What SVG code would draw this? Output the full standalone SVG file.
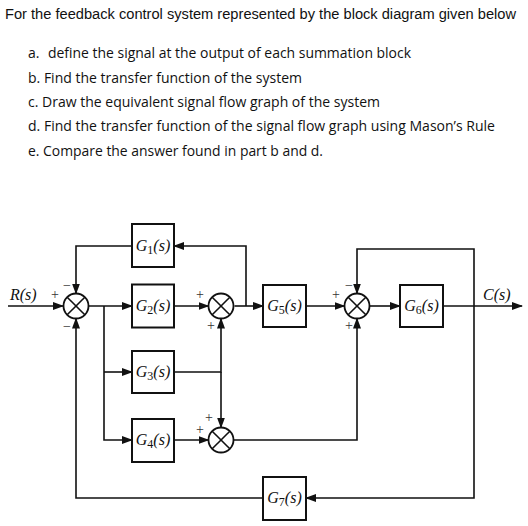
<svg xmlns="http://www.w3.org/2000/svg" width="528" height="526" viewBox="0 0 528 526">
<defs>
<marker id="ah" markerUnits="userSpaceOnUse" markerWidth="11" markerHeight="8" refX="10" refY="4" orient="auto">
<path d="M0,0 L11,4 L0,8 z" fill="#111"/>
</marker>
<style>
.q{font-family:"Open Sans","Liberation Sans",sans-serif;fill:#111}
.t{font-family:"Liberation Sans",Arial,sans-serif;fill:#111}
.blk{fill:#fff;stroke:#111;stroke-width:2}
.lbl{font-family:"Liberation Serif","DejaVu Serif",serif;font-style:italic;font-size:16px;fill:#111}
.sub{font-style:normal;font-size:12px}
.w{fill:none;stroke:#111;stroke-width:1.6}
.sum circle{fill:#fff;stroke:#111;stroke-width:1.8}
.sum line{stroke:#111;stroke-width:1.6}
.sg{font-family:"Liberation Serif",serif;font-size:14px;fill:#333;text-anchor:middle}
</style>
</defs>
<rect width="528" height="526" fill="#fff"/>
<g id="question">
<text class="t" x="5" y="19" font-size="14" textLength="511" lengthAdjust="spacingAndGlyphs">For the feedback control system represented by the block diagram given below</text>
<text class="q" x="28" y="58" font-size="14">a.</text>
<text class="q" x="48" y="58" font-size="14" textLength="363" lengthAdjust="spacingAndGlyphs">define the signal at the output of each summation block</text>
<text class="q" x="28" y="83" font-size="14" textLength="274" lengthAdjust="spacingAndGlyphs">b. Find the transfer function of the system</text>
<text class="q" x="28" y="107" font-size="14" textLength="352" lengthAdjust="spacingAndGlyphs">c. Draw the equivalent signal flow graph of the system</text>
<text class="q" x="28" y="131" font-size="14" textLength="467" lengthAdjust="spacingAndGlyphs">d. Find the transfer function of the signal flow graph using Mason’s Rule</text>
<text class="q" x="28" y="156" font-size="14" textLength="295" lengthAdjust="spacingAndGlyphs">e. Compare the answer found in part b and d.</text>
</g>
<g id="connectors">
<path class="w" d="M8,306 H63" marker-end="url(#ah)"/>
<path class="w" d="M89,306 H132" marker-end="url(#ah)"/>
<path class="w" d="M174,306 H208.5" marker-end="url(#ah)"/>
<path class="w" d="M234.5,306 H263" marker-end="url(#ah)"/>
<path class="w" d="M246,306 V246 H174" marker-end="url(#ah)"/>
<path class="w" d="M132,246 H76 V293.5" marker-end="url(#ah)"/>
<path class="w" d="M104,306 V440 H132" marker-end="url(#ah)"/>
<path class="w" d="M104,372 H132" marker-end="url(#ah)"/>
<path class="w" d="M174,372 H221 V318.5" marker-end="url(#ah)"/>
<path class="w" d="M221,372 V427.5" marker-end="url(#ah)"/>
<path class="w" d="M174,440 H208.5" marker-end="url(#ah)"/>
<path class="w" d="M233.5,440 H357 V318.5" marker-end="url(#ah)"/>
<path class="w" d="M306,306 H344.5" marker-end="url(#ah)"/>
<path class="w" d="M369.5,306 H400" marker-end="url(#ah)"/>
<path class="w" d="M443,306 H522" marker-end="url(#ah)"/>
<path class="w" d="M474,306 V249 H357 V293.5" marker-end="url(#ah)"/>
<path class="w" d="M474,306 V498 H306" marker-end="url(#ah)"/>
<path class="w" d="M263,498 H76 V318.5" marker-end="url(#ah)"/>
</g>
<g id="R" ><text class="lbl" x="10" y="300">R(s)</text></g>
<g id="C" ><text class="lbl" x="483" y="300">C(s)</text></g>
<g id="sum1" class="sum"><circle cx="76" cy="306" r="12.5"/><line x1="67.2" y1="297.2" x2="84.8" y2="314.8"/><line x1="84.8" y1="297.2" x2="67.2" y2="314.8"/>
<text class="sg" x="55" y="299">+</text><text class="sg" x="67" y="290">−</text><text class="sg" x="67" y="331">−</text></g>
<g id="sum2" class="sum"><circle cx="221" cy="306" r="12.5"/><line x1="212.2" y1="297.2" x2="229.8" y2="314.8"/><line x1="229.8" y1="297.2" x2="212.2" y2="314.8"/>
<text class="sg" x="200" y="299">+</text><text class="sg" x="211" y="330">+</text></g>
<g id="sum3" class="sum"><circle cx="357" cy="306" r="12.5"/><line x1="348.2" y1="297.2" x2="365.8" y2="314.8"/><line x1="365.8" y1="297.2" x2="348.2" y2="314.8"/>
<text class="sg" x="336" y="299">+</text><text class="sg" x="349" y="290">−</text><text class="sg" x="349" y="330">+</text></g>
<g id="sum4" class="sum"><circle cx="221" cy="440" r="12.5"/><line x1="212.2" y1="431.2" x2="229.8" y2="448.8"/><line x1="229.8" y1="431.2" x2="212.2" y2="448.8"/>
<text class="sg" x="209" y="422">+</text><text class="sg" x="200" y="434">+</text></g>
<g id="G1"><rect class="blk" x="132" y="224" width="42" height="43"/><text class="lbl" x="153" y="251" text-anchor="middle">G<tspan class="sub" dy="3">1</tspan><tspan dy="-3">(s)</tspan></text></g>
<g id="G2"><rect class="blk" x="132" y="284.5" width="42" height="43"/><text class="lbl" x="153" y="311" text-anchor="middle">G<tspan class="sub" dy="3">2</tspan><tspan dy="-3">(s)</tspan></text></g>
<g id="G3"><rect class="blk" x="132" y="351" width="42" height="42"/><text class="lbl" x="153" y="377" text-anchor="middle">G<tspan class="sub" dy="3">3</tspan><tspan dy="-3">(s)</tspan></text></g>
<g id="G4"><rect class="blk" x="132" y="419" width="42" height="43"/><text class="lbl" x="153" y="445" text-anchor="middle">G<tspan class="sub" dy="3">4</tspan><tspan dy="-3">(s)</tspan></text></g>
<g id="G5"><rect class="blk" x="263" y="285" width="43" height="42"/><text class="lbl" x="284.5" y="311" text-anchor="middle">G<tspan class="sub" dy="3">5</tspan><tspan dy="-3">(s)</tspan></text></g>
<g id="G6"><rect class="blk" x="400" y="285" width="43" height="42"/><text class="lbl" x="421.5" y="311" text-anchor="middle">G<tspan class="sub" dy="3">6</tspan><tspan dy="-3">(s)</tspan></text></g>
<g id="G7"><rect class="blk" x="263" y="477" width="43" height="43"/><text class="lbl" x="284.5" y="503" text-anchor="middle">G<tspan class="sub" dy="3">7</tspan><tspan dy="-3">(s)</tspan></text></g>
</svg>
